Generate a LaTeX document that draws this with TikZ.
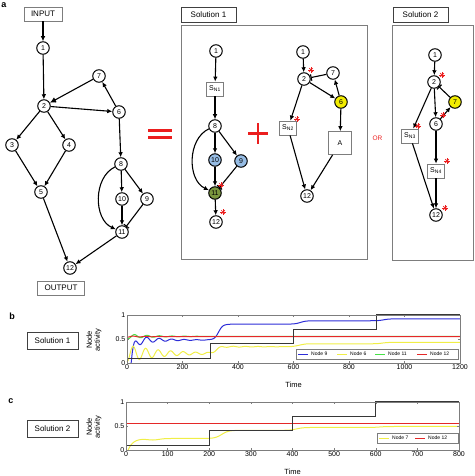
\documentclass[tikz,border=0pt]{standalone}
\usepackage{fontspec}
\setmainfont{Liberation Sans}
\usetikzlibrary{arrows.meta,positioning}

\definecolor{framegray}{RGB}{125,125,125}
\definecolor{mutred}{RGB}{235,30,30}
\definecolor{bluefill}{RGB}{150,188,228}
\definecolor{greenfill}{RGB}{122,150,62}
\definecolor{yelfill}{RGB}{242,236,0}
\definecolor{plotblue}{RGB}{45,45,215}
\definecolor{plotyel}{RGB}{240,238,70}
\definecolor{plotgreen}{RGB}{70,225,70}
\definecolor{plotred}{RGB}{228,40,40}
\definecolor{plotblack}{RGB}{55,55,55}

\tikzset{
  state/.style={circle,draw,line width=1pt,fill=white,minimum size=12.5pt,
    inner sep=0pt,font=\fontsize{7}{7}\selectfont},
  sbox/.style={draw=framegray,line width=0.8pt,fill=white,minimum width=17pt,
    minimum height=14pt,inner sep=1pt,font=\fontsize{7}{7}\selectfont},
  io/.style={draw=framegray,line width=0.7pt,inner xsep=7pt,minimum height=14pt,
    font=\fontsize{8}{8}\selectfont},
  soltag/.style={draw=black!75,line width=0.7pt,minimum width=55pt,minimum height=15pt,
    font=\fontsize{8}{8}\selectfont},
  plottag/.style={draw=black!75,line width=0.7pt,minimum width=51pt,minimum height=17pt,
    font=\fontsize{8}{8}\selectfont},
  panel/.style={draw=framegray,line width=0.8pt},
  act/.style={-{Latex[length=5pt,width=4.6pt]},line width=1.1pt},
  inh/.style={-{Bar[width=6.5pt]},line width=1.1pt},
  barhead/.style={-{Bar[width=5pt] Latex[length=5pt,width=4.6pt]},line width=1.1pt},
  bigsign/.style={mutred,line width=2.6pt},
  curve/.style={line width=1pt},
  axbox/.style={framegray,line width=0.5pt},
  ticklab/.style={font=\fontsize{7}{7}\selectfont,inner sep=1.5pt},
  legtxt/.style={font=\fontsize{5}{5}\selectfont,anchor=west,inner sep=0pt},
  letter/.style={font=\bfseries\fontsize{9}{9}\selectfont}
}

\newcommand{\mutmark}[1]{%
  \foreach \a in {0,45,90,135}
    \draw[mutred,line width=0.7pt] (#1) ++(\a:2.6) -- ++(\a+180:5.2);}

\begin{document}
\begin{tikzpicture}[x=1pt,y=-1pt,
  declare function={sig(\z)=1/(1+exp(-max(min(\z,9),-9)));
                    dmp(\z)=exp(max(-\z,-9));}]
\useasboundingbox (0,0) rectangle (474,476);

% panel a: full network
\node[letter] (la) at (4,5) {a};
\node[io] (input) at (43,14) {INPUT};
\node[state] (a1) at (43,48) {1};
\node[state] (a2) at (44,106) {2};
\node[state] (a7) at (99,76) {7};
\node[state] (a6) at (119,112) {6};
\node[state] (a3) at (12,145) {3};
\node[state] (a4) at (69,145) {4};
\node[state] (a5) at (41,192) {5};
\node[state] (a8) at (121,164) {8};
\node[state] (a10) at (122,199) {10};
\node[state] (a9) at (147,199) {9};
\node[state] (a11) at (122,232) {11};
\node[state] (a12) at (70,268) {12};
\node[io] (output) at (61,288) {OUTPUT};

\draw[act] (input) -- (a1);
\draw[act] (a1) -- (a2);
\draw[barhead] (a7) -- (a2);
\draw[act] (a2) -- (a6);
\draw[act] (a6) -- (a7);
\draw[act] (a2) -- (a3);
\draw[act] (a2) -- (a4);
\draw[act] (a3) -- (a5);
\draw[act] (a4) -- (a5);
\draw[act] (a5) -- (a12);
\draw[act] (a6) -- (a8);
\draw[act] (a8) -- (a10);
\draw[act] (a8) -- (a9);
\draw[act] (a8) to[bend right=65] (a11);
\draw[act] (a10) -- (a11);
\draw[inh] (a9) -- (a11);
\draw[act] (a11) -- (a12);

\draw[bigsign] (148,130.5) -- (172,130.5) (148,137.5) -- (172,137.5);

% solution 1
\node[soltag] (tag1) at (208.5,14.5) {Solution 1};
\draw[panel] (181,25) rectangle (367,259);

\node[state] (b1) at (216,51) {1};
\node[sbox] (sn1) at (215,89) {S\textsubscript{N1}};
\node[state] (b8) at (215,126) {8};
\node[state,fill=bluefill] (b10) at (215,160) {10};
\node[state,fill=bluefill] (b9) at (241,161) {9};
\node[state,fill=greenfill] (b11) at (215,193) {11};
\node[state] (b12) at (216,222) {12};

\draw[act] (b1) -- (sn1);
\draw[act] (sn1) -- (b8);
\draw[act] (b8) -- (b10);
\draw[act] (b8) -- (b9);
\draw[act] (b8) to[bend right=65] (b11);
\draw[act] (b10) -- (b11);
\draw[inh] (b9) -- (b11);
\draw[act] (b11) -- (b12);
\mutmark{[shift={(6,-8)}]b11.center}
\mutmark{[shift={(7,-10)}]b12.center}

\draw[bigsign] (248,133.5) -- (268,133.5) (258,123) -- (258,144);

\node[state] (c1) at (303,52) {1};
\node[state] (c2) at (304,79) {2};
\node[state] (c7) at (333,73) {7};
\node[state,fill=yelfill] (c6) at (341,102) {6};
\node[sbox] (sn2) at (288,128) {S\textsubscript{N2}};
\node[sbox,minimum width=23pt,minimum height=23pt] (cA) at (340,143) {A};
\node[state] (c12) at (307,196) {12};

\draw[act] (c1) -- (c2);
\draw[inh] (c7) -- (c2);
\draw[act] (c2) -- (c6);
\draw[act] (c6) -- (c7);
\draw[act] (c2) -- (sn2);
\draw[act] (sn2) -- (c12);
\draw[act] (c6) -- (cA);
\draw[act] (cA) -- (c12);
\mutmark{[shift={(7,-9)}]c2.center}
\mutmark{[shift={(9,-9)}]sn2.center}

\node[text=mutred,font=\fontsize{6.5}{6.5}\selectfont] (or) at (377.5,138) {OR};

% solution 2
\node[soltag] (tag2) at (420.5,15) {Solution 2};
\draw[panel] (392,25) rectangle (473,260);

\node[state] (d1) at (435,55) {1};
\node[state] (d2) at (434,82) {2};
\node[state,fill=yelfill] (d7) at (455,102) {7};
\node[state] (d6) at (436,124) {6};
\node[sbox] (sn3) at (410,136) {S\textsubscript{N3}};
\node[sbox] (sn4) at (436,171) {S\textsubscript{N4}};
\node[state] (d12) at (436,215) {12};

\draw[act] (d1) -- (d2);
\draw[act] (d2) -- (d6);
\draw[act] (d6) -- (d7);
\draw[inh] (d7) -- (d2);
\draw[act] (d2) -- (sn3);
\draw[act] (sn3) -- (d12);
\draw[act] (d6) -- (sn4);
\draw[act] (sn4) -- (d12);
\mutmark{[shift={(8,-7)}]d2.center}
\mutmark{[shift={(7,-9)}]d6.center}
\mutmark{[shift={(8,-10)}]sn3.center}
\mutmark{[shift={(11,-10)}]sn4.center}
\mutmark{[shift={(9,-7)}]d12.center}

% panel b
\node[letter] (lb) at (12,316) {b};
\node[plottag] (tagb) at (52.5,341) {Solution 1};
\node[rotate=90,align=center,font=\fontsize{7.5}{8}\selectfont] (ylb) at (94,340) {Node\\activity};
\begin{scope}[shift={(127,363)},x=0.2775pt,y=48pt]
  \draw[curve,plotblue] plot[domain=15:1200,samples=320]
    (\x,{0.48*(1-dmp((\x-15)/10))+0.12*dmp((\x-15)/80)*sin(8*(\x-15))
      +0.33*sig((\x-330)/8)+0.07*sig((\x-625)/10)+0.04*sig((\x-925)/10)});
  \draw[curve,plotyel] plot[domain=0:1200,samples=320]
    (\x,{0.2-0.18*dmp(\x/130)*cos(8*\x)
      +0.14*sig((\x-320)/8)+0.06*sig((\x-620)/10)+0.03*sig((\x-920)/10)});
  \draw[curve,plotgreen] plot[domain=0:1200,samples=320]
    (\x,{0.555-0.05*dmp(\x/90)*cos(8*\x-40)});
  \draw[curve,plotred] plot[domain=0:1200,samples=320]
    (\x,{0.55-0.015*dmp(\x/60)*cos(8*\x)});
  \draw[plotblack,line width=1.3pt] (0,0.1) -| (300,0.4) -| (600,0.7) -| (900,1) -- (1200,1);
  \draw[axbox] (0,0) rectangle (1200,1);
  \foreach \t in {0,200,...,1200} {
    \draw[axbox] (\t,0) -- ++(0,0.04) (\t,1) -- ++(0,-0.04);
    \node[ticklab,below] at (\t,0) {\t};
  }
  \foreach \v in {0,0.5,1} {
    \draw[axbox] (0,\v) -- ++(7,0) (1200,\v) -- ++(-7,0);
    \node[ticklab,left] at (0,\v) {\v};
  }
\end{scope}
\node[font=\fontsize{7.5}{8}\selectfont] (tb) at (293.5,385) {Time};
\draw[axbox,fill=white] (296,349) rectangle (458,359);
\draw[curve,plotblue] (298,354) -- (308,354);
\node[legtxt] at (311,354) {Node 9};
\draw[curve,plotyel] (337,354) -- (347,354);
\node[legtxt] at (350,354) {Node 6};
\draw[curve,plotgreen] (375,354) -- (385,354);
\node[legtxt] at (388,354) {Node 11};
\draw[curve,plotred] (417,354) -- (427,354);
\node[legtxt] at (430,354) {Node 12};

% panel c
\node[letter] (lc) at (11,401) {c};
\node[plottag] (tagc) at (52.5,429) {Solution 2};
\node[rotate=90,align=center,font=\fontsize{7.5}{8}\selectfont] (ylc) at (94,427) {Node\\activity};
\begin{scope}[shift={(126,450)},x=0.41625pt,y=48pt]
  \draw[curve,plotyel] plot[domain=5:800,samples=240]
    (\x,{0.24*(1-dmp((\x-5)/12))-0.03*dmp(((\x-65)/20)^2)
      +0.17*sig((\x-230)/8)+0.06*sig((\x-410)/8)+0.02*sig((\x-610)/8)});
  \draw[curve,plotred] (0,0.55) -- (800,0.55);
  \draw[plotblack,line width=1.3pt] (0,0.1) -| (200,0.4) -| (400,0.7) -| (600,1) -- (800,1);
  \draw[axbox] (0,0) rectangle (800,1);
  \foreach \t in {0,100,...,800} {
    \draw[axbox] (\t,0) -- ++(0,0.04) (\t,1) -- ++(0,-0.04);
    \node[ticklab,below] at (\t,0) {\t};
  }
  \foreach \v in {0,0.5,1} {
    \draw[axbox] (0,\v) -- ++(4.8,0) (800,\v) -- ++(-4.8,0);
    \node[ticklab,left] at (0,\v) {\v};
  }
\end{scope}
\node[font=\fontsize{7.5}{8}\selectfont] (tc) at (292.5,472) {Time};
\draw[axbox,fill=white] (377,433) rectangle (458,443);
\draw[curve,plotyel] (379,438) -- (389,438);
\node[legtxt] at (392,438) {Node 7};
\draw[curve,plotred] (415,438) -- (425,438);
\node[legtxt] at (428,438) {Node 12};
\end{tikzpicture}
\end{document}
